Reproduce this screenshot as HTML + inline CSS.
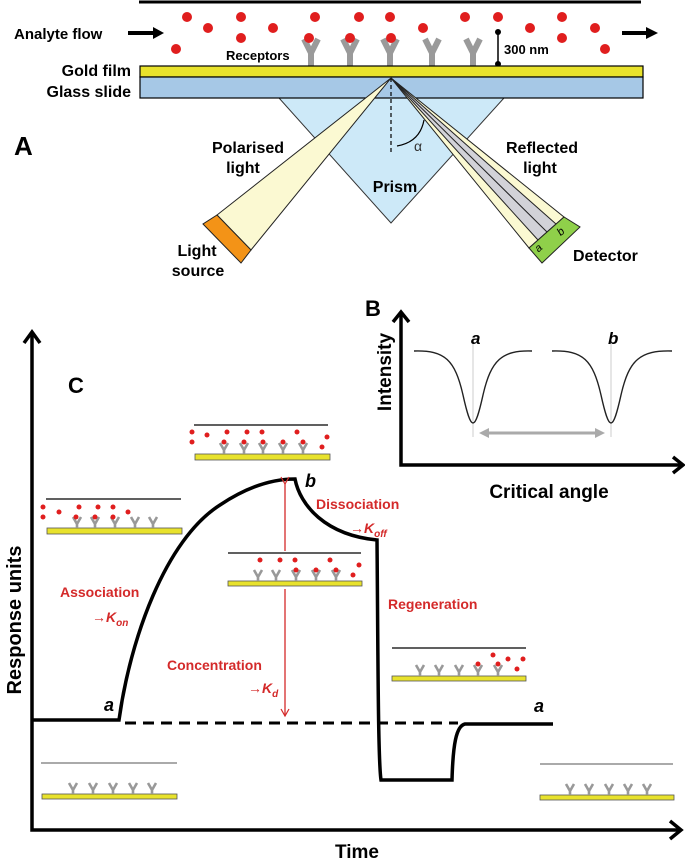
<!DOCTYPE html>
<html><head><meta charset="utf-8"><style>
html,body{margin:0;padding:0;background:#fff;}
svg{display:block;font-family:"Liberation Sans",Arial,sans-serif;}
.b{font-weight:bold;}
.r{fill:#d42a2a;font-weight:bold;}
</style></head><body>
<svg width="685" height="861" viewBox="0 0 685 861" xmlns="http://www.w3.org/2000/svg">
<defs>
<g id="Y"><path d="M-4,-11 L0,-4 L4,-11 M0,-4 L0,0" stroke="#999" stroke-width="2.6" fill="none"/></g>
<g id="BY"><path d="M-7,-27 L0,-13 L7,-27 M0,-13 L0,0" stroke="#9a9a9a" stroke-width="6" fill="none"/></g>
<marker id="ah" markerWidth="10" markerHeight="10" refX="8" refY="5" orient="auto" markerUnits="userSpaceOnUse"><path d="M1,1 L8,5 L1,9" fill="none" stroke="#d42a2a" stroke-width="1.2"/></marker>
</defs>

<!-- Panel A -->
<line x1="139" y1="2" x2="641" y2="2" stroke="#000" stroke-width="3"/>
<text x="14" y="39" class="b" font-size="15">Analyte flow</text>
<path d="M128,33 H155" stroke="#000" stroke-width="4"/><path d="M153,27 L164,33 L153,39Z"/>
<path d="M622,33 H648" stroke="#000" stroke-width="4"/><path d="M646,27 L658,33 L646,39Z"/>
<g fill="#e01e1e">
<circle cx="187" cy="17" r="5"/><circle cx="208" cy="28" r="5"/><circle cx="241" cy="17" r="5"/><circle cx="273" cy="28" r="5"/>
<circle cx="176" cy="49" r="5"/><circle cx="241" cy="38" r="5"/><circle cx="315" cy="17" r="5"/><circle cx="359" cy="17" r="5"/>
<circle cx="390" cy="17" r="5"/><circle cx="423" cy="28" r="5"/><circle cx="465" cy="17" r="5"/><circle cx="498" cy="17" r="5"/>
<circle cx="530" cy="28" r="5"/><circle cx="562" cy="17" r="5"/><circle cx="562" cy="38" r="5"/><circle cx="595" cy="28" r="5"/>
<circle cx="605" cy="49" r="5"/>
</g>
<use href="#BY" x="311" y="66"/><use href="#BY" x="350" y="66"/><use href="#BY" x="390" y="66"/><use href="#BY" x="432" y="66"/><use href="#BY" x="473" y="66"/>
<g fill="#e01e1e"><circle cx="309" cy="38" r="5"/><circle cx="350" cy="38" r="5"/><circle cx="391" cy="38" r="5"/></g>
<text x="226" y="60" class="b" font-size="13">Receptors</text>
<line x1="498" y1="32" x2="498" y2="64" stroke="#000" stroke-width="1.5"/><circle cx="498" cy="32" r="3"/><circle cx="498" cy="64" r="3"/>
<text x="504" y="54" class="b" font-size="13">300 nm</text>
<path d="M279,98 L504,98 L391,223Z" fill="#cde9f8" stroke="#333" stroke-width="1"/>
<rect x="140" y="66" width="503" height="11" fill="#e8e22c" stroke="#000" stroke-width="1.2"/>
<rect x="140" y="77" width="503" height="21" fill="#a6c8e6" stroke="#000" stroke-width="1.2"/>
<text x="131" y="76" class="b" font-size="16" text-anchor="end">Gold film</text>
<text x="131" y="97" class="b" font-size="16" text-anchor="end">Glass slide</text>
<line x1="391" y1="78" x2="391" y2="155" stroke="#000" stroke-width="1.2" stroke-dasharray="4,3"/>
<path d="M397,146 Q420,142 424,120" fill="none" stroke="#000" stroke-width="1.2"/>
<text x="414" y="151" font-size="14" fill="#333">α</text>
<polygon points="391,78 217,215 251,250" fill="#fbf9d2" stroke="#222" stroke-width="1"/>
<polygon points="203,224 241,263 251,250 217,215" fill="#f39317" stroke="#222" stroke-width="1"/>
<polygon points="391,78 529,248 564,217" fill="#fbf9d2" stroke="#222" stroke-width="1"/>
<polygon points="391,78 538,240 556,224" fill="#d2d2d8" stroke="#222" stroke-width="1"/>
<line x1="391" y1="78" x2="547" y2="232" stroke="#222" stroke-width="1"/>
<polygon points="529,248 564,217 580,227 542,263" fill="#8fd04a" stroke="#222" stroke-width="1"/>
<text x="536" y="252" font-size="11" font-style="italic" transform="rotate(-42 538 249)">a</text>
<text x="558" y="235" font-size="11" font-style="italic" transform="rotate(-42 561 232)">b</text>
<text x="14" y="155" class="b" font-size="26">A</text>
<text x="248" y="153" class="b" font-size="16" text-anchor="middle">Polarised</text>
<text x="243" y="173" class="b" font-size="16" text-anchor="middle">light</text>
<text x="395" y="192" class="b" font-size="16" text-anchor="middle">Prism</text>
<text x="542" y="153" class="b" font-size="16" text-anchor="middle">Reflected</text>
<text x="540" y="173" class="b" font-size="16" text-anchor="middle">light</text>
<text x="197" y="256" class="b" font-size="16" text-anchor="middle">Light</text>
<text x="198" y="276" class="b" font-size="16" text-anchor="middle">source</text>
<text x="573" y="261" class="b" font-size="16">Detector</text>

<!-- Panel B -->
<text x="365" y="316" class="b" font-size="22">B</text>
<path d="M401,314 V465 H681" fill="none" stroke="#000" stroke-width="3.5"/>
<path d="M393,322 L401,312 L409,322" fill="none" stroke="#000" stroke-width="3.5"/>
<path d="M673,457 L683,465 L673,473" fill="none" stroke="#000" stroke-width="3.5"/>
<text transform="translate(391,372) rotate(-90)" class="b" font-size="19" text-anchor="middle">Intensity</text>
<line x1="473" y1="336" x2="473" y2="437" stroke="#ccc" stroke-width="1"/>
<line x1="611" y1="336" x2="611" y2="437" stroke="#ccc" stroke-width="1"/>
<path d="M414,351 C445,350 455,360 463,395 C467,413 470,423 473,423 C476,423 479,413 483,395 C491,360 502,350 532,351" fill="none" stroke="#222" stroke-width="1.4"/>
<path d="M552,351 C583,350 593,360 601,395 C605,413 608,423 611,423 C614,423 617,413 621,395 C629,360 640,350 672,351" fill="none" stroke="#222" stroke-width="1.4"/>
<line x1="482" y1="433" x2="602" y2="433" stroke="#aaa" stroke-width="3"/>
<path d="M489,428 L479,433 L489,438Z M595,428 L605,433 L595,438Z" fill="#aaa"/>
<text x="471" y="344" class="b" font-size="17" font-style="italic">a</text>
<text x="608" y="344" class="b" font-size="17" font-style="italic">b</text>
<text x="549" y="498" class="b" font-size="19" text-anchor="middle">Critical angle</text>

<!-- Panel C axes -->
<path d="M32,333 V830 H680" fill="none" stroke="#000" stroke-width="3.5"/>
<path d="M24,343 L32,332 L40,343" fill="none" stroke="#000" stroke-width="3.5"/>
<path d="M670,821 L681,830 L670,839" fill="none" stroke="#000" stroke-width="3.5"/>
<text x="68" y="393" class="b" font-size="22">C</text>
<text transform="translate(21,620) rotate(-90)" class="b" font-size="20" text-anchor="middle">Response units</text>
<text x="357" y="858" class="b" font-size="19" text-anchor="middle">Time</text>

<!-- curve -->
<path d="M32,720 H119 C130,640 165,540 220,505 C250,485 275,479 295,479 C300,505 325,535 377,540 L377,540 C378,650 378,760 381,780 H452 C453,745 456,726 465,724 H553" fill="none" stroke="#000" stroke-width="3.5"/>
<line x1="125" y1="723" x2="458" y2="723" stroke="#000" stroke-width="3" stroke-dasharray="11,7"/>
<text x="104" y="711" class="b" font-size="18" font-style="italic">a</text>
<text x="305" y="487" class="b" font-size="18" font-style="italic">b</text>
<text x="534" y="712" class="b" font-size="18" font-style="italic">a</text>

<line x1="285" y1="484" x2="285" y2="716" stroke="#d42a2a" stroke-width="1.3" marker-start="url(#ah)" marker-end="url(#ah)"/>
<rect x="228" y="551" width="134" height="38" fill="#fff"/>

<text x="60" y="597" class="r" font-size="14">Association</text>
<text x="92" y="622" class="r" font-size="14">→<tspan font-style="italic">K</tspan><tspan font-size="10" dy="4" font-style="italic">on</tspan></text>
<text x="167" y="670" class="r" font-size="14">Concentration</text>
<text x="248" y="693" class="r" font-size="14">→<tspan font-style="italic">K</tspan><tspan font-size="10" dy="4" font-style="italic">d</tspan></text>
<text x="316" y="509" class="r" font-size="14">Dissociation</text>
<text x="350" y="533" class="r" font-size="14">→<tspan font-style="italic">K</tspan><tspan font-size="10" dy="4" font-style="italic">off</tspan></text>
<text x="388" y="609" class="r" font-size="14">Regeneration</text>

<!-- inset 1 -->
<line x1="46" y1="499" x2="181" y2="499" stroke="#000" stroke-width="1.2"/>
<rect x="47" y="528" width="135" height="6" fill="#e8e22c" stroke="#555" stroke-width="0.8"/>
<use href="#Y" x="77" y="528"/><use href="#Y" x="95" y="528"/><use href="#Y" x="115" y="528"/><use href="#Y" x="135" y="528"/><use href="#Y" x="153" y="528"/>
<g fill="#e01e1e"><circle cx="43" cy="507" r="2.5"/><circle cx="59" cy="512" r="2.5"/><circle cx="79" cy="507" r="2.5"/><circle cx="98" cy="507" r="2.5"/><circle cx="113" cy="507" r="2.5"/><circle cx="128" cy="512" r="2.5"/><circle cx="43" cy="517" r="2.5"/><circle cx="76" cy="517" r="2.5"/><circle cx="95" cy="517" r="2.5"/><circle cx="113" cy="517" r="2.5"/></g>
<!-- inset 2 -->
<line x1="194" y1="425" x2="328" y2="425" stroke="#000" stroke-width="1.2"/>
<rect x="195" y="454" width="135" height="6" fill="#e8e22c" stroke="#555" stroke-width="0.8"/>
<use href="#Y" x="224" y="454"/><use href="#Y" x="244" y="454"/><use href="#Y" x="263" y="454"/><use href="#Y" x="283" y="454"/><use href="#Y" x="303" y="454"/>
<g fill="#e01e1e"><circle cx="192" cy="432" r="2.5"/><circle cx="207" cy="435" r="2.5"/><circle cx="227" cy="432" r="2.5"/><circle cx="247" cy="432" r="2.5"/><circle cx="262" cy="432" r="2.5"/><circle cx="297" cy="432" r="2.5"/><circle cx="327" cy="437" r="2.5"/><circle cx="192" cy="442" r="2.5"/><circle cx="224" cy="442" r="2.5"/><circle cx="244" cy="442" r="2.5"/><circle cx="263" cy="442" r="2.5"/><circle cx="283" cy="442" r="2.5"/><circle cx="303" cy="442" r="2.5"/><circle cx="322" cy="447" r="2.5"/></g>
<!-- inset 3 -->
<line x1="228" y1="553" x2="361" y2="553" stroke="#000" stroke-width="1.2"/>
<rect x="228" y="581" width="134" height="5" fill="#e8e22c" stroke="#555" stroke-width="0.8"/>
<use href="#Y" x="258" y="581"/><use href="#Y" x="276" y="581"/><use href="#Y" x="296" y="581"/><use href="#Y" x="316" y="581"/><use href="#Y" x="336" y="581"/>
<g fill="#e01e1e"><circle cx="260" cy="560" r="2.5"/><circle cx="280" cy="560" r="2.5"/><circle cx="295" cy="560" r="2.5"/><circle cx="330" cy="560" r="2.5"/><circle cx="359" cy="565" r="2.5"/><circle cx="296" cy="570" r="2.5"/><circle cx="316" cy="570" r="2.5"/><circle cx="336" cy="570" r="2.5"/><circle cx="353" cy="575" r="2.5"/></g>
<!-- inset 4 -->
<line x1="392" y1="648" x2="526" y2="648" stroke="#000" stroke-width="1.2"/>
<rect x="392" y="676" width="134" height="5" fill="#e8e22c" stroke="#555" stroke-width="0.8"/>
<use href="#Y" x="420" y="676"/><use href="#Y" x="439" y="676"/><use href="#Y" x="459" y="676"/><use href="#Y" x="478" y="676"/><use href="#Y" x="498" y="676"/>
<g fill="#e01e1e"><circle cx="493" cy="655" r="2.5"/><circle cx="478" cy="664" r="2.5"/><circle cx="498" cy="664" r="2.5"/><circle cx="508" cy="659" r="2.5"/><circle cx="523" cy="659" r="2.5"/><circle cx="517" cy="669" r="2.5"/></g>
<!-- inset 5 -->
<line x1="41" y1="763" x2="177" y2="763" stroke="#777" stroke-width="1.2"/>
<rect x="42" y="794" width="135" height="5" fill="#e8e22c" stroke="#555" stroke-width="0.8"/>
<use href="#Y" x="73" y="794"/><use href="#Y" x="93" y="794"/><use href="#Y" x="113" y="794"/><use href="#Y" x="133" y="794"/><use href="#Y" x="152" y="794"/>
<!-- inset 6 -->
<line x1="540" y1="764" x2="673" y2="764" stroke="#777" stroke-width="1.2"/>
<rect x="540" y="795" width="134" height="5" fill="#e8e22c" stroke="#555" stroke-width="0.8"/>
<use href="#Y" x="570" y="795"/><use href="#Y" x="589" y="795"/><use href="#Y" x="609" y="795"/><use href="#Y" x="628" y="795"/><use href="#Y" x="647" y="795"/>
</svg>
</body></html>
